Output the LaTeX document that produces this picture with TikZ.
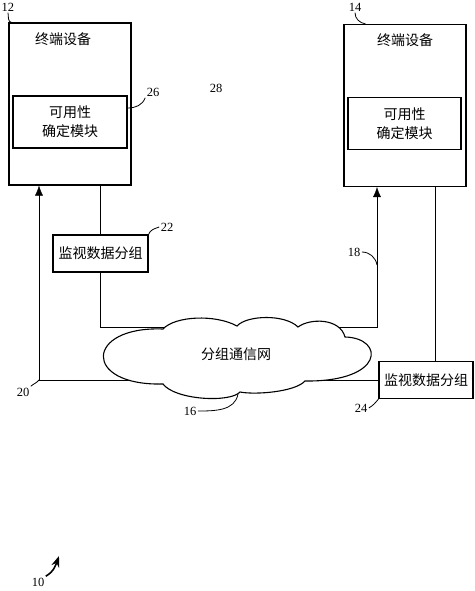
\documentclass[tikz,border=0pt]{standalone}
\usepackage{fontspec}
\setmainfont{Liberation Serif}
\newfontfamily\cjk{Noto Sans CJK SC}
\usetikzlibrary{arrows.meta,backgrounds}

\begin{document}
\begin{tikzpicture}[x=1pt,y=-1pt,line width=1.1pt,
    devbox/.style={draw,minimum width=122pt,minimum height=162pt},
    modbox/.style={draw,minimum width=114pt,minimum height=52pt,align=center,
      font=\cjk\fontsize{14}{19}\selectfont},
    pktbox/.style={draw,minimum width=95pt,minimum height=37pt,inner sep=1pt,
      font=\cjk\fontsize{14}{16}\selectfont},
    numlbl/.style={font=\fontsize{12.5}{14}\selectfont,inner sep=1pt},
    leader/.style={line width=0.8pt},
    arr/.style={-{Latex[length=10pt,width=8pt]}}]
  \useasboundingbox (0,0) rectangle (474,591);

  % terminals
  \node[devbox] (dev1) at (70,104) {};
  \node[devbox] (dev2) at (405,105.5) {};
  \node[font=\cjk\fontsize{14}{16}\selectfont] (title1) at (63,39) {终端设备};
  \node[font=\cjk\fontsize{14}{16}\selectfont] (title2) at (405,40) {终端设备};
  \node[modbox] (mod1) at (70,122) {可用性\\确定模块};
  \node[modbox,minimum width=113pt] (mod2) at (404.5,123.5) {可用性\\确定模块};

  % network cloud
  \draw[fill=white] (163,384) .. controls (82,386) and (85,326) .. (163,329)
    .. controls (175,316) and (215,314) .. (237,326)
    .. controls (247,315) and (285,314) .. (298,327)
    .. controls (310,318) and (340,318) .. (345,337)
    .. controls (385,338) and (385,382) .. (305,381)
    .. controls (295,392) and (255,395) .. (240,392)
    .. controls (230,403) and (175,400) .. (163,384) -- cycle;
  \node[font=\cjk\fontsize{14}{16}\selectfont] (net) at (236,354) {分组通信网};

  % packets
  \node[pktbox] (pkt1) at (100.5,253.5) {监视数据分组};
  \node[pktbox,minimum width=94pt] (pkt2) at (426,380) {监视数据分组};

  \coordinate (c20) at (39,380);
  \coordinate (c18) at (377,327);
  \coordinate (t18) at (377,265);
  \coordinate (t16) at (238,394);

  \begin{scope}[on background layer]
    \draw (pkt1.north) -- (pkt1.north |- dev1.south);
    \draw[arr] (pkt1.south) |- (c18) -- (c18 |- dev2.south);
    \draw[arr] (pkt2.west) -- (c20) -- (c20 |- dev1.south);
    \draw ([xshift=9pt]pkt2.north) -- ([xshift=9pt]pkt2.north |- dev2.south);
  \end{scope}

  % reference numerals
  \node[numlbl] (n12) at (8,7) {12};
  \draw[leader] (n12.south) to[out=-80,in=170] ([xshift=3pt]dev1.north west);
  \node[numlbl] (n14) at (355,7) {14};
  \draw[leader] (n14.south) to[out=-90,in=170] ([xshift=22pt]dev2.north west);
  \node[numlbl] (n26) at (153,92) {26};
  \draw[leader] ([yshift=14pt]mod1.east) to[out=0,in=250] (n26.south west);
  \node[numlbl] (n28) at (216,88) {28};
  \node[numlbl] (n22) at (167,227) {22};
  \draw[leader] (pkt1.north east) to[out=70,in=200] (n22.west);
  \node[numlbl] (n18) at (354,252) {18};
  \draw[leader] (n18.east) to[out=0,in=100] (t18);
  \node[numlbl] (n20) at (23,392) {20};
  \draw[leader] (n20.north east) to[out=40,in=230] (c20);
  \node[numlbl] (n16) at (190,411) {16};
  \draw[leader] (n16.east) to[out=0,in=-100] (t16);
  \node[numlbl] (n24) at (361,408) {24};
  \draw[leader] (n24.east) to[out=30,in=230] (pkt2.south west);
  \node[numlbl] (n10) at (38,582) {10};
  \coordinate (t10) at (59,556);
  \draw[leader,line width=1.6pt,-{Stealth[length=11pt,width=8pt]}] (n10.north east) to[out=30,in=-110] (t10);
\end{tikzpicture}
\end{document}
